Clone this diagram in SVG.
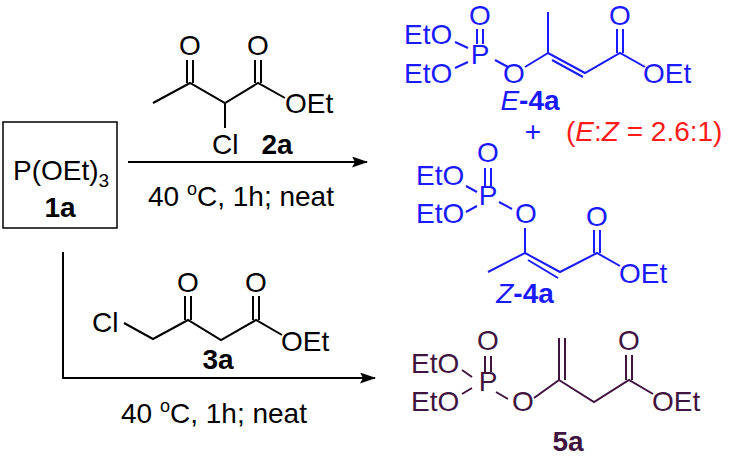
<svg xmlns="http://www.w3.org/2000/svg" width="730" height="458" viewBox="0 0 730 458">
<defs>
<marker id="ah" markerWidth="16" markerHeight="11" refX="15" refY="5.5" orient="auto" markerUnits="userSpaceOnUse"><path d="M0,0 L16,5.5 L0,11 L3,5.5 Z" fill="#000"/></marker>
</defs>
<style>
text{font-family:"Liberation Sans",Arial,sans-serif;font-size:28px}
.c{text-anchor:middle}
.b{font-weight:bold}
.k{fill:#000}.bl{fill:#1a1aff}.pu{fill:#3f1540}.rd{fill:#ff1a1a}
.lk{stroke:#000;stroke-width:2;fill:none}
.lb{stroke:#1a1aff;stroke-width:2;fill:none}
.lp{stroke:#3f1540;stroke-width:2;fill:none}
</style>
<rect width="730" height="458" fill="#fff"/>
<g id="connectors">
<line class="lk" x1="128" y1="162" x2="367" y2="162" marker-end="url(#ah)"/>
<polyline class="lk" points="63,252 63,378 375,378" marker-end="url(#ah)"/>
</g>
<g id="node-1a">
<rect x="3" y="122" width="114" height="106" fill="none" stroke="#000" stroke-width="1.5"/>
<text x="13" y="180" class="k">P(OEt)<tspan font-size="19" dy="7">3</tspan></text>
<text x="60" y="217" class="c b">1a</text>
</g>
<g id="node-2a">
<path class="lk" d="M153,103 L190,83 L225,103 L258,83 L285,98 M225,103 L225,128 M187,83 L187,60 M193,83 L193,60 M255,83 L255,60 M261,83 L261,60"/>
<text x="190" y="55" class="c">O</text>
<text x="258" y="55" class="c">O</text>
<text x="285" y="113">OEt</text>
<text x="212" y="154">Cl</text>
<text x="277" y="154" class="c b">2a</text>
<text x="148" y="206">40 <tspan font-size="18" dy="-11">o</tspan><tspan dy="11">C, 1h; neat</tspan></text>
</g>
<g id="node-E4a">
<path class="lb" d="M455,42 L468,48 M455,68 L468,62 M495,60 L508,67 M525,67 L548,53 L548,12 M548,53 L585,73 L620,53 L645,67 M552,60 L583,77 M477,44 L477,29 M483,44 L483,29 M617,53 L617,29 M623,53 L623,29"/>
<text x="480" y="25" class="c bl">O</text>
<text x="404" y="44" class="bl">EtO</text>
<text x="480" y="64" class="c bl">P</text>
<text x="404" y="83" class="bl">EtO</text>
<text x="514" y="83" class="c bl">O</text>
<text x="620" y="25" class="c bl">O</text>
<text x="643" y="83" class="bl">OEt</text>
<text x="530" y="110" class="c bl"><tspan font-style="italic">E</tspan><tspan class="b">-4a</tspan></text>
<text x="533" y="141" class="c bl">+</text>
<text x="566" y="141" class="rd">(<tspan font-style="italic">E</tspan>:<tspan font-style="italic">Z</tspan> = 2.6:1)</text>
</g>
<g id="node-Z4a">
<path class="lb" d="M466,186 L477,192 M466,212 L477,206 M499,202 L512,209 M525,228 L525,253 L488,272 M525,253 L560,272 L597,253 L620,266 M528,260 L558,278 M485,186 L485,168 M491,186 L491,168 M594,253 L594,230 M600,253 L600,230"/>
<text x="488" y="162" class="c bl">O</text>
<text x="416" y="185" class="bl">EtO</text>
<text x="488" y="205" class="c bl">P</text>
<text x="416" y="223" class="bl">EtO</text>
<text x="526" y="223" class="c bl">O</text>
<text x="597" y="226" class="c bl">O</text>
<text x="619" y="283" class="bl">OEt</text>
<text x="525" y="303" class="c bl"><tspan font-style="italic">Z</tspan><tspan class="b">-4a</tspan></text>
</g>
<g id="node-3a">
<path class="lk" d="M124,323 L153,339 L188,320 L221,340 L256,320 L282,335 M185,320 L185,296 M191,320 L191,296 M253,320 L253,296 M259,320 L259,296"/>
<text x="92" y="332" class="k">Cl</text>
<text x="188" y="292" class="c">O</text>
<text x="256" y="292" class="c">O</text>
<text x="281" y="351">OEt</text>
<text x="218" y="369" class="c b">3a</text>
<text x="121" y="423">40 <tspan font-size="18" dy="-11">o</tspan><tspan dy="11">C, 1h; neat</tspan></text>
</g>
<g id="node-5a">
<path class="lp" d="M462,370 L472,377 M462,394 L472,388 M496,392 L508,399 M534,398 L559,380 L559,338 M565,380 L565,338 M559,380 L594,402 L629,380 L653,394 M626,380 L626,355 M632,380 L632,355 M485,372 L485,356 M491,372 L491,356"/>
<text x="488" y="350" class="c pu">O</text>
<text x="411" y="373" class="pu">EtO</text>
<text x="488" y="391" class="c pu">P</text>
<text x="411" y="411" class="pu">EtO</text>
<text x="523" y="411" class="c pu">O</text>
<text x="629" y="350" class="c pu">O</text>
<text x="652" y="411" class="pu">OEt</text>
<text x="568" y="451" class="c b pu">5a</text>
</g>
</svg>
